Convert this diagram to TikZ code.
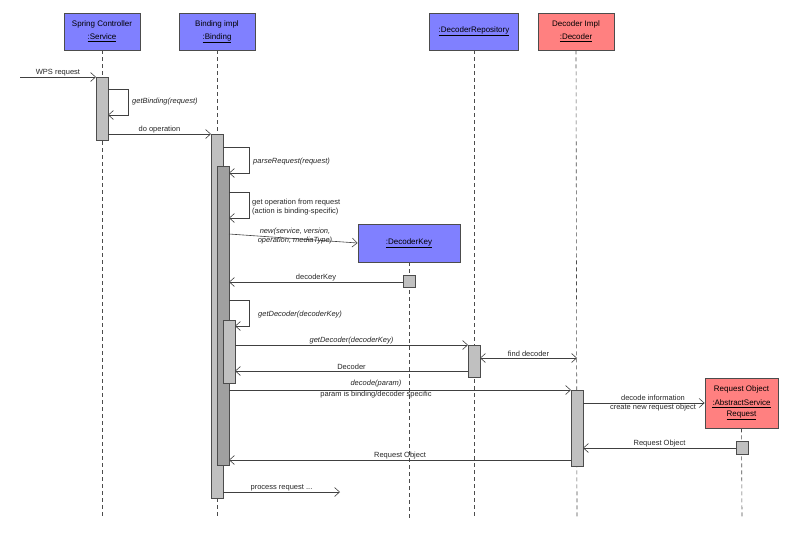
\documentclass[tikz,border=0pt]{standalone}
\usepackage{fontspec}
\setmainfont{Liberation Sans}
\usetikzlibrary{arrows.meta}
\definecolor{blu}{HTML}{8080FF}
\definecolor{rd}{HTML}{FF8080}
\definecolor{act}{HTML}{C0C0C0}
\definecolor{act2}{HTML}{A0A0A0}
\begin{document}
\begin{tikzpicture}[x=1pt,y=-1pt,
  obj/.style={draw=black!70,line width=0.8pt,minimum height=37pt,inner sep=1pt,align=center,font=\fontsize{8}{13}\selectfont},
  life/.style={dash pattern=on 4pt off 3pt,black!70,line width=0.6pt},
  act/.style={draw=black!70,fill=act,line width=0.6pt},
  msg/.style={black!75,line width=0.6pt,-{Straight Barb[length=5pt,width=9pt]}},
  lbl/.style={font=\fontsize{7.5}{9}\selectfont,text=black!85,inner sep=1pt,align=center},
  it/.style={lbl,font=\fontsize{7.5}{9}\selectfont\itshape}]
\useasboundingbox (0,0) rectangle (800,544);
% heads
\node[obj,fill=blu,minimum width=76pt] (svc) at (102,31.5) {Spring Controller\\\underline{:Service}};
\node[obj,fill=blu,minimum width=76pt] (bnd) at (217,31.5) {Binding impl\\\underline{:Binding}};
\node[obj,fill=blu,minimum width=89pt] (rep) at (474,31.5) {\underline{:DecoderRepository}};
\node[obj,fill=rd,minimum width=76pt] (dec) at (576,31.5) {Decoder Impl\\\underline{:Decoder}};
\node[obj,fill=blu,minimum width=102pt,minimum height=38pt] (key) at (409,243) {\underline{:DecoderKey}};
\node[obj,fill=rd,minimum width=73pt,minimum height=50pt,font=\fontsize{8}{11}\selectfont] (ro) at (741.5,403) {Request Object\\[3pt]\underline{:AbstractService}\\\underline{Request}};
% lifelines
\coordinate (svcE) at (102,518); \coordinate (bndE) at (217,518);
\coordinate (repE) at (474,518); \coordinate (decE) at (577,518);
\coordinate (keyE) at (409,518); \coordinate (roE) at (742,518);
\draw[life] (svc.south) -- (svcE);
\draw[life] (bnd.south) -- (bndE);
\draw[life] (rep.south) -- (repE);
\draw[life] (dec.south) -- (decE);
\draw[life] (key.south) -- (keyE);
\draw[life] (ro.south) -- (roE);
% activations
\draw[act] (96,77) rectangle (108,140);
\draw[act] (211,134) rectangle (223,498);
\draw[act,fill=act2] (217,166) rectangle (229,465);
\draw[act] (223,320) rectangle (235,383);
\draw[act] (403,275) rectangle (415,287);
\draw[act] (468,345) rectangle (480,377);
\draw[act] (571,390) rectangle (583,466);
\draw[act] (736,441) rectangle (748,454);
% messages
\coordinate (wps) at (20,77);
\draw[msg] (wps) -- (96,77) node[lbl,midway,above] {WPS request};
\draw[msg] (108,89) -- (128,89) -- (128,115) -- (108,115);
\node[it,anchor=west] (gb) at (131,102) {getBinding(request)};
\draw[msg] (108,134) -- (211,134) node[lbl,midway,above] {do operation};
\draw[msg] (223,147) -- (249,147) -- (249,173) -- (229,173);
\node[it,anchor=west] (pr) at (252,162) {parseRequest(request)};
\draw[msg] (229,192) -- (249,192) -- (249,218) -- (229,218);
\node[lbl,anchor=west,align=left] (go) at (251,207) {get operation from request\\(action is binding-specific)};
\draw[msg] (229,234) -- (key.west);
\node[it] (nw) at (295,236) {new(service, version,\\operation, mediaType)};
\draw[msg] (403,282) -- (229,282) node[lbl,midway,above] {decoderKey};
\draw[msg] (229,300) -- (249,300) -- (249,326) -- (235,326);
\node[it,anchor=west] (gd) at (257,315) {getDecoder(decoderKey)};
\draw[msg] (235,345) -- (468,345) node[it,midway,above] {getDecoder(decoderKey)};
\draw[black!75,line width=0.6pt,{Straight Barb[length=5pt,width=9pt]}-{Straight Barb[length=5pt,width=9pt]}] (480,358) -- (577,358) node[lbl,midway,above] {find decoder};
\draw[msg] (468,371) -- (235,371) node[lbl,midway,above] {Decoder};
\draw[msg] (229,390) -- (571,390);
\node[it] (dp) at (376,384) {decode(param)};
\node[lbl] (pb) at (376,395) {param is binding/decoder specific};
\draw[msg] (583,403) -- (ro.west);
\node[lbl] (di) at (653,403) {decode information\\create new request object};
\draw[msg] (736,448) -- (583,448) node[lbl,midway,above] {Request Object};
\draw[msg] (571,460) -- (229,460) node[lbl,midway,above] {Request Object};
\coordinate (pe) at (340,492);
\draw[msg] (223,492) -- (pe) node[lbl,midway,above] {process request ...};
\end{tikzpicture}
\end{document}
